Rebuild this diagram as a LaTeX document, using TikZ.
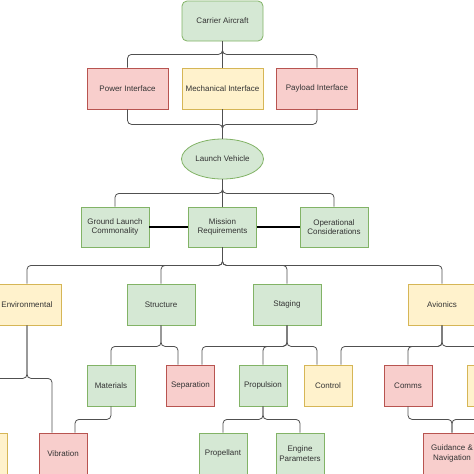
\documentclass[tikz,border=0pt]{standalone}
\usepackage{fontspec}
\setmainfont{Liberation Sans}
\usetikzlibrary{shapes.geometric,calc}
\definecolor{gfill}{HTML}{D5E8D4}
\definecolor{gline}{HTML}{82B366}
\definecolor{rfill}{HTML}{F8CECC}
\definecolor{rline}{HTML}{B85450}
\definecolor{yfill}{HTML}{FFF2CC}
\definecolor{yline}{HTML}{D6B656}
\definecolor{edgec}{HTML}{505050}
\begin{document}
\begin{tikzpicture}[x=1pt,y=-1pt,
  base/.style={draw, line width=0.8pt, inner sep=1pt, align=center,
    font=\fontsize{8}{9.5}\selectfont, text=black!80},
  gbox/.style={base, fill=gfill, draw=gline},
  rbox/.style={base, fill=rfill, draw=rline},
  ybox/.style={base, fill=yfill, draw=yline},
  wide/.style={minimum width=81pt, minimum height=41pt},
  mid/.style={minimum width=68pt, minimum height=41pt},
  small/.style={minimum width=48pt, minimum height=41pt},
  conn/.style={draw=edgec, line width=0.8pt, rounded corners=4pt},
  bold/.style={draw=black, line width=1.5pt}]
\useasboundingbox (0,0) rectangle (474,474);
\clip (0,0) rectangle (474,474);
\fill[white] (0,0) rectangle (474,474);

% level 0
\node[gbox, wide, rounded corners=5pt, minimum height=40pt] (ca) at (222.5,21) {Carrier Aircraft};
% level 1
\node[rbox, wide] (pw) at (127.5,88.5) {Power Interface};
\node[ybox, wide] (me) at (222.5,88.5) {Mechanical Interface};
\node[rbox, wide] (pl) at (317,88.5) {Payload Interface};
% launch vehicle
\node[gbox, ellipse, minimum width=82pt, minimum height=40pt] (lv) at (222.5,159) {Launch Vehicle};
% level 2
\node[gbox, mid, minimum height=40pt] (gl) at (115,227) {Ground Launch\\Commonality};
\node[gbox, mid, minimum height=40pt] (ms) at (222.5,227) {Mission\\Requirements};
\node[gbox, mid, minimum height=40pt] (oc) at (334,227) {Operational\\Considerations};
% level 3
\node[ybox, mid] (ev) at (27,304.5) {Environmental};
\node[gbox, mid] (st) at (161,304.5) {Structure};
\node[gbox, mid] (sg) at (287,304.5) {Staging};
\node[ybox, mid] (av) at (442,304.5) {Avionics};
% level 4
\node[gbox, small] (ma) at (111,385.5) {Materials};
\node[rbox, small] (sp) at (190.5,385.5) {Separation};
\node[gbox, small] (pr) at (263,385.5) {Propulsion};
\node[ybox, small] (ct) at (328,385.5) {Control};
\node[rbox, small] (cm) at (408,385.5) {Comms};
\node[ybox, small] (yr) at (491.5,385.5) {};
% level 5
\node[ybox, small] (yl) at (-17,453.5) {};
\node[rbox, small] (vb) at (63,453.5) {Vibration};
\node[gbox, small] (pp) at (223,453.5) {Propellant};
\node[gbox, small] (en) at (300,453.5) {Engine\\Parameters};
\node[rbox, small, minimum width=58pt] (gn) at (452,453.5) {Guidance \&\\Navigation};

% connectors: carrier to interfaces
\draw[conn] (ca.south) -- ++(0,13) -| (pw.north);
\draw[conn] (ca.south) -- (me.north);
\draw[conn] (ca.south) -- ++(0,13) -| (pl.north);
% interfaces to launch vehicle
\draw[conn] (pw.south) -- ++(0,15) -| (lv.north);
\draw[conn] (me.south) -- (lv.north);
\draw[conn] (pl.south) -- ++(0,15) -| (lv.north);
% launch vehicle to level 2
\draw[conn] (lv.south) -- ++(0,14) -| (gl.north);
\draw[conn] (lv.south) -- (ms.north);
\draw[conn] (lv.south) -- ++(0,14) -| (oc.north);
\draw[bold] (gl.east) -- (ms.west);
\draw[bold] (ms.east) -- (oc.west);
% mission to level 3
\draw[conn] (ms.south) -- ++(0,18) -| (ev.north);
\draw[conn] (ms.south) -- ++(0,18) -| (st.north);
\draw[conn] (ms.south) -- ++(0,18) -| (sg.north);
\draw[conn] (ms.south) -- ++(0,18) -| (av.north);
% structure
\draw[conn] (st.south) -- ++(0,21) -| (ma.north);
\draw[conn] (st.south) -- ++(0,21) -| ([xshift=-12.5pt]sp.north);
% staging
\draw[conn] (sg.south) -- ++(0,21) -| ([xshift=11.5pt]sp.north);
\draw[conn] (sg.south) -- ++(0,21) -| (pr.north);
\draw[conn] (sg.south) -- ++(0,21) -| ([xshift=-11pt]ct.north);
% avionics
\draw[conn] (av.south) -- ++(0,21) -| ([xshift=13pt]ct.north);
\draw[conn] (av.south) -- ++(0,21) -| (cm.north);
\draw[conn] (av.south) -- ++(0,21) -| (yr.north);
% environmental
\draw[conn] (ev.south) -- ++(0,53) -| (yl.north);
\draw[conn] (ev.south) -- ++(0,53) -| ([xshift=-11pt]vb.north);
% materials
\draw[conn] (ma.south) -- ++(0,13) -| ([xshift=12pt]vb.north);
% propulsion
\draw[conn] (pr.south) -- ++(0,13) -| (pp.north);
\draw[conn] (pr.south) -- ++(0,13) -| (en.north);
% comms and right branch
\draw[conn] (cm.south) -- ++(0,13) -| (gn.north);
\draw[conn] (yr.south) -- ++(0,13) -| (gn.north);
\end{tikzpicture}
\end{document}
